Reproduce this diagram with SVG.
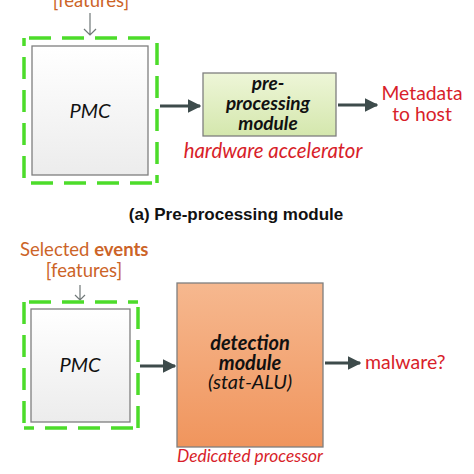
<svg xmlns="http://www.w3.org/2000/svg" width="474" height="474" viewBox="0 0 474 474">
  <defs>
    <linearGradient id="gGray" x1="0" y1="0" x2="0" y2="1">
      <stop offset="0" stop-color="#ffffff"/>
      <stop offset="1" stop-color="#ececec"/>
    </linearGradient>
    <linearGradient id="gGreen" x1="0" y1="0" x2="0" y2="1">
      <stop offset="0" stop-color="#eef6d8"/>
      <stop offset="1" stop-color="#d4e7ad"/>
    </linearGradient>
    <linearGradient id="gOrange" x1="0" y1="0" x2="0" y2="1">
      <stop offset="0" stop-color="#f6b88f"/>
      <stop offset="1" stop-color="#f0955d"/>
    </linearGradient>
    <marker id="head" viewBox="0 0 10 10" refX="9" refY="5" markerWidth="4.6" markerHeight="4.6" orient="auto" markerUnits="strokeWidth">
      <path d="M0,0 L10,5 L0,10 Z" fill="#3d4b4b"/>
    </marker>
  </defs>
  <style>
    text { font-family: Lato, "Open Sans", "Liberation Sans", sans-serif; }
    .box { stroke: #7f7f7f; stroke-width: 1.3; }
    .dash { fill: none; stroke: #4cdc2a; stroke-width: 3.5; stroke-dasharray: 22 11; stroke-dashoffset: 28; }
    .flow { stroke: #3d4b4b; stroke-width: 3; fill: none; marker-end: url(#head); }
    .thin { stroke: #707878; stroke-width: 1.2; fill: none; }
    .orange { fill: #cc6428; font-size: 18.5px; }
    .red { fill: #d81e2a; }
    .label { fill: #111; text-anchor: middle; }
    .cap { font-family: "Liberation Sans", Arial, sans-serif; font-weight: bold; font-size: 17px; fill: #111; }
  </style>

  <!-- part (a) -->
  <g id="a-features">
    <text class="orange" x="91" y="7" text-anchor="middle">[features]</text>
    <path class="thin" d="M90,13 V35 M84,29 L90,35 L96,29"/>
  </g>
  <g id="a-pmc">
    <path class="dash" d="M24,38 H157 M157,38 V183 M157,183 H24 M24,183 V38"/>
    <rect class="box" x="32" y="46" width="116" height="129" fill="url(#gGray)"/>
    <text class="label" x="90" y="118" font-size="20" font-style="italic">PMC</text>
  </g>
  <g id="a-preproc">
    <rect class="box" x="203" y="73" width="133" height="63" fill="url(#gGreen)"/>
    <text class="label" x="268" y="90" font-size="19" font-weight="bold" font-style="italic">pre-</text>
    <text class="label" x="268" y="110" font-size="19" font-weight="bold" font-style="italic">processing</text>
    <text class="label" x="268" y="130" font-size="19" font-weight="bold" font-style="italic">module</text>
    <text class="red" x="273" y="158" font-size="20.4" font-style="italic" text-anchor="middle">hardware accelerator</text>
  </g>
  <g id="a-output">
    <text class="red" x="422" y="100" font-size="19.3" text-anchor="middle">Metadata</text>
    <text class="red" x="422" y="121" font-size="19.3" text-anchor="middle">to host</text>
  </g>
  <text id="caption-a" class="cap" x="236" y="220" text-anchor="middle">(a) Pre-processing module</text>

  <!-- part (b) -->
  <g id="b-features">
    <text class="orange" x="20" y="256">Selected <tspan font-weight="bold">events</tspan></text>
    <text class="orange" x="84" y="277" text-anchor="middle">[features]</text>
    <path class="thin" d="M80,285 V300 M75,295 L80,300 L85,295"/>
  </g>
  <g id="b-pmc">
    <path class="dash" d="M24,302 H138 M138,302 V428 M138,428 H24 M24,428 V302"/>
    <rect class="box" x="31" y="309" width="99" height="113" fill="url(#gGray)"/>
    <text class="label" x="80" y="372" font-size="20" font-style="italic">PMC</text>
  </g>
  <g id="b-detect">
    <rect class="box" x="177" y="283" width="146" height="164" fill="url(#gOrange)"/>
    <text class="label" x="250" y="350" font-size="20" font-weight="bold" font-style="italic">detection</text>
    <text class="label" x="250" y="370" font-size="20" font-weight="bold" font-style="italic">module</text>
    <text class="label" x="250" y="389" font-size="20" font-style="italic">(stat-ALU)</text>
    <text class="red" x="250" y="462" font-size="17.3" font-style="italic" text-anchor="middle">Dedicated processor</text>
  </g>
  <g id="b-output">
    <text class="red" x="365" y="369" font-size="19.5">malware?</text>
  </g>

  <g id="connectors">
    <line class="flow" x1="160" y1="106" x2="200" y2="106"/>
    <line class="flow" x1="338" y1="105" x2="377" y2="105"/>
    <line class="flow" x1="140" y1="366" x2="175" y2="366"/>
    <line class="flow" x1="325" y1="363" x2="360" y2="363"/>
  </g>
</svg>
